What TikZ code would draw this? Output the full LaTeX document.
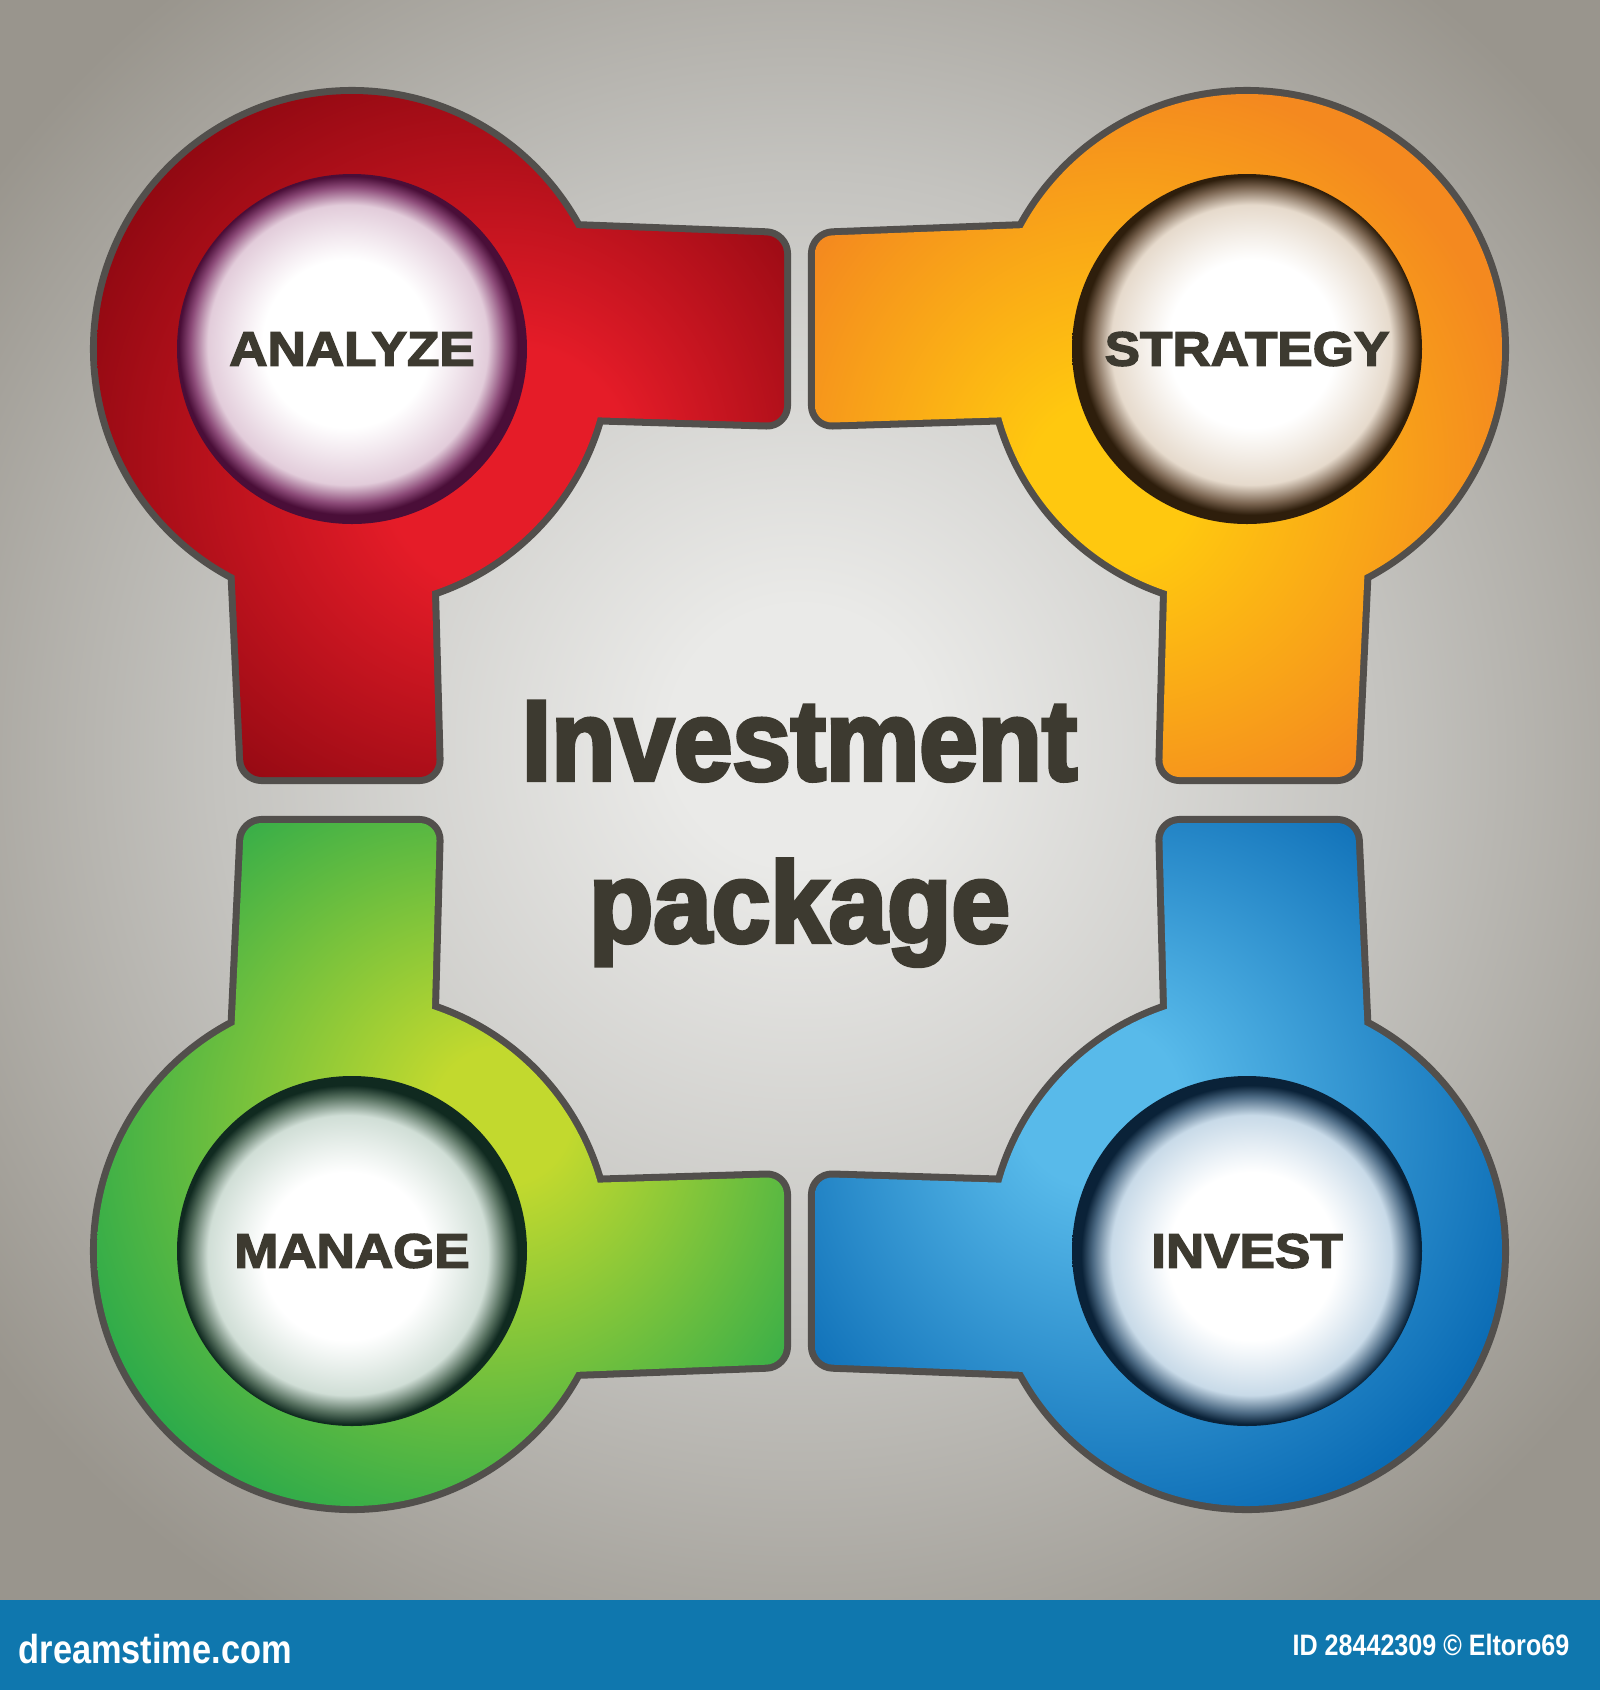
\documentclass[tikz,border=0pt]{standalone}
\usepackage{fontspec}
\setmainfont{Liberation Sans}
\newfontfamily\labelfont{Liberation Sans Bold}[FakeBold=3, FakeStretch=1.1]
\newfontfamily\titlefont{Liberation Sans Bold}[FakeBold=3.5, FakeStretch=0.92]
\newfontfamily\stampfont{Liberation Sans Bold}[FakeStretch=0.85]
\usepackage{xcolor}
\usetikzlibrary{positioning}

\definecolor{edgegray}{HTML}{524F4C}
\definecolor{ink}{HTML}{3D3A30}
\definecolor{barblue}{HTML}{0F77AE}
\definecolor{bglight}{HTML}{EAEAE8}
\definecolor{bgmid}{HTML}{C4C3BF}
\definecolor{bgdark}{HTML}{99958D}
\definecolor{redhi}{HTML}{E51C28}
\definecolor{redlo}{HTML}{8A0710}
\definecolor{orangehi}{HTML}{FFC80F}
\definecolor{orangelo}{HTML}{F4891F}
\definecolor{greenhi}{HTML}{C2D92E}
\definecolor{greenlo}{HTML}{2EAB4A}
\definecolor{bluehi}{HTML}{58BAEA}
\definecolor{bluelo}{HTML}{0B6CB5}
\definecolor{redrim}{HTML}{4A0E38}
\definecolor{redband}{HTML}{8C4A78}
\definecolor{redtint}{HTML}{E2CCDA}
\definecolor{orangerim}{HTML}{2E1E0C}
\definecolor{orangeband}{HTML}{7A6450}
\definecolor{orangetint}{HTML}{E6DACC}
\definecolor{greenrim}{HTML}{102A20}
\definecolor{greenband}{HTML}{56705F}
\definecolor{greentint}{HTML}{D0DED6}
\definecolor{bluerim}{HTML}{0A2238}
\definecolor{blueband}{HTML}{4C6A84}
\definecolor{bluetint}{HTML}{C8DAE8}

% backdrop and petal shadings
\pgfdeclareradialshading{backdrop}{\pgfpoint{0bp}{2bp}}{color(0bp)=(bglight); color(4bp)=(bglight); color(18bp)=(bgmid); color(31bp)=(bgdark); color(50bp)=(bgdark)}
\pgfdeclareradialshading{redglow}{\pgfpoint{6bp}{-3bp}}{color(0bp)=(redhi); color(9bp)=(redhi); color(32bp)=(redlo); color(50bp)=(redlo)}
\pgfdeclareradialshading{orangeglow}{\pgfpoint{-4bp}{-4bp}}{color(0bp)=(orangehi); color(6bp)=(orangehi); color(28bp)=(orangelo); color(50bp)=(orangelo)}
\pgfdeclareradialshading{greenglow}{\pgfpoint{5bp}{4bp}}{color(0bp)=(greenhi); color(5bp)=(greenhi); color(30bp)=(greenlo); color(50bp)=(greenlo)}
\pgfdeclareradialshading{blueglow}{\pgfpoint{-5bp}{5bp}}{color(0bp)=(bluehi); color(6bp)=(bluehi); color(30bp)=(bluelo); color(50bp)=(bluelo)}
% lens shadings
\pgfdeclareradialshading{redcore}{\pgfpoint{-1bp}{1bp}}{color(0bp)=(white); color(12bp)=(white); color(20bp)=(redtint); color(22.6bp)=(redband); color(24.2bp)=(redrim); color(25bp)=(redrim); color(50bp)=(redrim)}
\pgfdeclareradialshading{orangecore}{\pgfpoint{1bp}{1bp}}{color(0bp)=(white); color(12bp)=(white); color(20bp)=(orangetint); color(22.6bp)=(orangeband); color(24.2bp)=(orangerim); color(25bp)=(orangerim); color(50bp)=(orangerim)}
\pgfdeclareradialshading{greencore}{\pgfpoint{-1bp}{-1bp}}{color(0bp)=(white); color(12bp)=(white); color(20bp)=(greentint); color(22.6bp)=(greenband); color(24.2bp)=(greenrim); color(25bp)=(greenrim); color(50bp)=(greenrim)}
\pgfdeclareradialshading{bluecore}{\pgfpoint{1bp}{-1bp}}{color(0bp)=(white); color(12bp)=(white); color(20bp)=(bluetint); color(22.6bp)=(blueband); color(24.2bp)=(bluerim); color(25bp)=(bluerim); color(50bp)=(bluerim)}

\tikzset{
    outline/.style={draw=edgegray, line width=4pt, line join=round},
    caption/.style={font=\labelfont\fontsize{13.7}{16}\selectfont, text=ink, inner sep=0pt},
    headline/.style={font=\titlefont\fontsize{32.5}{39}\selectfont, text=ink, inner sep=0pt, anchor=base},
    stamp/.style={font=\stampfont, text=white, inner sep=0pt}
}

% petal outlines: ring plus two arms
\newcommand{\redpetal}{(352,349) circle[radius=255]
    [rounded corners=5pt] (520,226) -- (784,236) -- (784,423) -- (520,415) -- cycle
    (232,520) -- (430,520) -- (437,777) -- (244,777) -- cycle}
\newcommand{\orangepetal}{(1247,349) circle[radius=255]
    [rounded corners=5pt] (1079,226) -- (1079,415) -- (815,423) -- (815,236) -- cycle
    (1169,520) -- (1367,520) -- (1355,777) -- (1162,777) -- cycle}
\newcommand{\greenpetal}{(352,1251) circle[radius=255]
    [rounded corners=5pt] (520,1185) -- (784,1177) -- (784,1364) -- (520,1374) -- cycle
    (244,823) -- (437,823) -- (430,1080) -- (232,1080) -- cycle}
\newcommand{\bluepetal}{(1247,1251) circle[radius=255]
    [rounded corners=5pt] (815,1177) -- (1079,1185) -- (1079,1374) -- (815,1364) -- cycle
    (1162,823) -- (1355,823) -- (1367,1080) -- (1169,1080) -- cycle}

\begin{document}
\begin{tikzpicture}[x=0.01cm, y=-0.01cm]
    \useasboundingbox (0,0) rectangle (1599,1690);

    % Backdrop
    \shade[shading=backdrop] (-10,-10) rectangle (1610,1600);
    \fill[barblue] (-10,1600) rectangle (1610,1700);

    % Petals
    \path[outline] \redpetal;
    \path[outline] \orangepetal;
    \path[outline] \greenpetal;
    \path[outline] \bluepetal;
    \shade[shading=redglow] \redpetal;
    \shade[shading=orangeglow] \orangepetal;
    \shade[shading=greenglow] \greenpetal;
    \shade[shading=blueglow] \bluepetal;

    % Lenses
    \shade[shading=redcore] (352,349) circle[radius=175];
    \shade[shading=orangecore] (1247,349) circle[radius=175];
    \shade[shading=greencore] (352,1251) circle[radius=175];
    \shade[shading=bluecore] (1247,1251) circle[radius=175];

    % Labels
    \node[caption] (analyze) at (352,349) {ANALYZE};
    \node[caption] (strategy) at (1247,349) {STRATEGY};
    \node[caption] (manage) at (352,1251) {MANAGE};
    \node[caption] (invest) at (1247,1251) {INVEST};

    % Title
    \node[headline] (titletop) at (799.5,780) {Investment};
    \node[headline] (titlebottom) at (799.5,942) {package};

    % Footer
    \node[stamp, anchor=base west] (site) at (18,1663) {\fontsize{11.5}{13}\selectfont dreamstime.com};
    \node[stamp, anchor=base east] (credit) at (1570,1655) {\fontsize{8.4}{10}\selectfont ID 28442309 © Eltoro69};
\end{tikzpicture}
\end{document}
